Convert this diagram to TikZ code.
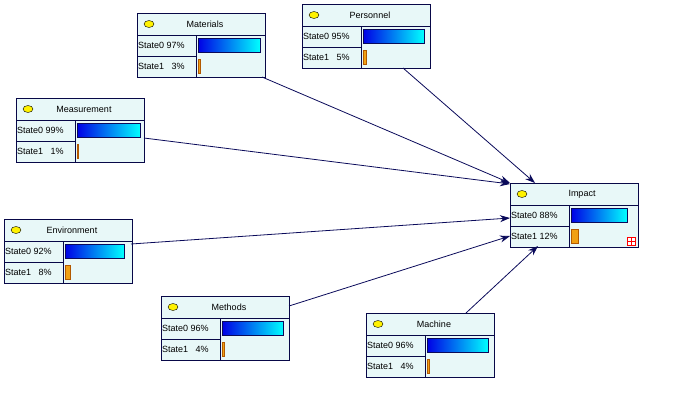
\documentclass[tikz,border=0pt]{standalone}
\usepackage{fontspec}
\setmainfont{Liberation Sans}
\usetikzlibrary{arrows.meta}
\definecolor{boxfill}{RGB}{232,248,248}
\definecolor{navy}{RGB}{10,10,90}
\definecolor{barorange}{RGB}{240,160,20}
\tikzset{
  bnbox/.style={draw=navy!80!black,fill=boxfill,minimum width=128pt,minimum height=64pt,anchor=north west,inner sep=0pt},
  conn/.style={draw=navy,line width=0.8pt,-{Stealth[length=10pt,width=7pt]}},
  lab/.style={font=\fontsize{9}{10}\selectfont,inner sep=0pt}
}
\newcommand{\bnframe}[1]{%
  \draw[navy!80!black] (#1.north west) ++(0,22) -- ++(128,0);
  \draw[navy!80!black] (#1.north west) ++(59,22) -- ++(0,42);
  \draw[navy!80!black] (#1.north west) ++(0,43) -- ++(59,0);
  \fill[yellow,draw=black,line width=0.4pt] (#1.north west) ++(12,11) ellipse (5 and 3.5);
}
\newcommand{\bnnode}[6]{%
  \node[bnbox] (#1) at (#2,#3) {};
  \bnframe{#1}
  \node[lab] at ([xshift=68pt,yshift=-11pt]#1.north west) {#4};
  \node[lab,anchor=west] at ([xshift=1pt,yshift=-32pt]#1.north west) {State0 #5\%};
  \node[lab,anchor=west] at ([xshift=1pt,yshift=-53pt]#1.north west) {State1 \phantom{0}#6\%};
  \shade[left color=blue!90!black,right color=cyan,draw=navy] ([xshift=61pt,yshift=-25pt]#1.north west) rectangle ++({max(2,0.64*#5)},14);
  \fill[barorange,draw=orange!70!black,line width=0.3pt] ([xshift=61pt,yshift=-46pt]#1.north west) rectangle ++({max(1.5,0.64*#6)},14);
}
\begin{document}
\begin{tikzpicture}[x=1pt,y=-1pt]
\useasboundingbox (0,0) rectangle (686,402);
\bnnode{mat}{137}{13}{Materials}{97}{3}
\bnnode{per}{302}{4}{Personnel}{95}{5}
\bnnode{mea}{16}{98}{Measurement}{99}{1}
\bnnode{env}{4}{219}{Environment}{92}{8}
\bnnode{met}{161}{296}{Methods}{96}{4}
\bnnode{mac}{366}{313}{Machine}{96}{4}
\node[bnbox] (imp) at (510,183) {};
\bnframe{imp}
\node[lab] at ([xshift=72pt,yshift=-11pt]imp.north west) {Impact};
\node[lab,anchor=west] at ([xshift=1pt,yshift=-32pt]imp.north west) {State0 88\%};
\node[lab,anchor=west] at ([xshift=1pt,yshift=-53pt]imp.north west) {State1 12\%};
\shade[left color=blue!90!black,right color=cyan,draw=navy] ([xshift=61pt,yshift=-25pt]imp.north west) rectangle ++(56,14);
\fill[barorange,draw=orange!70!black,line width=0.3pt] ([xshift=61pt,yshift=-46pt]imp.north west) rectangle ++(7,14);
\draw[red,line width=0.5pt,fill=white] ([xshift=117pt,yshift=-54pt]imp.north west) rectangle ++(8,8);
\draw[red,line width=0.5pt] ([xshift=121pt,yshift=-54pt]imp.north west) -- ++(0,8) ([xshift=117pt,yshift=-58pt]imp.north west) -- ++(8,0);
\coordinate (tMat) at (510,183);
\coordinate (tPer) at (535,183);
\coordinate (tMea) at (510,184);
\coordinate (tEnv) at (510,218);
\coordinate (tMet) at (510,236);
\coordinate (tMac) at (538,246);
\coordinate (sMat) at (262,77);
\coordinate (sPer) at (403,68);
\coordinate (sMea) at (144,138);
\coordinate (sEnv) at (131,244);
\coordinate (sMet) at (289,306);
\coordinate (sMac) at (466,313);
\draw[conn] (sMat) -- (tMat);
\draw[conn] (sPer) -- (tPer);
\draw[conn] (sMea) -- (tMea);
\draw[conn] (sEnv) -- (tEnv);
\draw[conn] (sMet) -- (tMet);
\draw[conn] (sMac) -- (tMac);
\end{tikzpicture}
\end{document}
